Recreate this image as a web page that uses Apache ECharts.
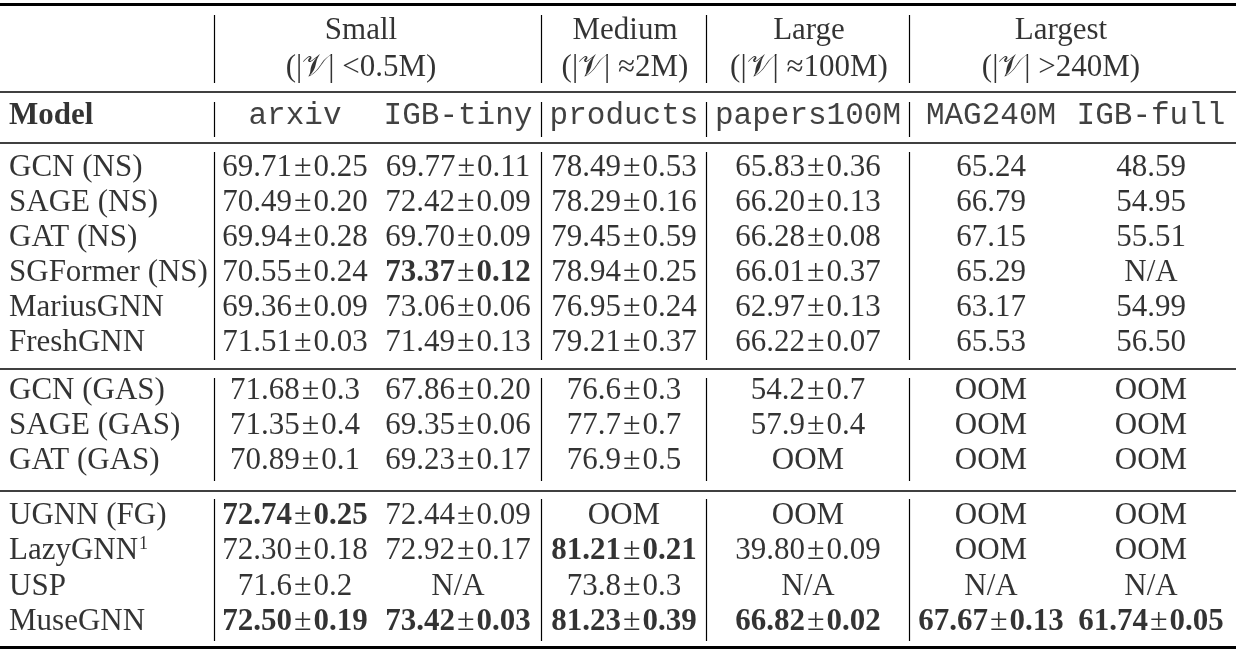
<!DOCTYPE html>
<html><head><meta charset="utf-8">
<script src="https://cdn.jsdelivr.net/npm/echarts@6/dist/echarts.min.js"></script>
<style>html,body{margin:0;padding:0;background:#fff}#c{width:1238px;height:652px}</style>
</head><body><div id="c"></div>
<script>
// ---------- data ----------
const models = ['GCN (NS)','SAGE (NS)','GAT (NS)','SGFormer (NS)','MariusGNN','FreshGNN',
  'GCN (GAS)','SAGE (GAS)','GAT (GAS)','UGNN (FG)','LazyGNN','USP','MuseGNN'];
const modelNotes = ['','','','','','','','','','','1','',''];
const datasets = ['arxiv','IGB-tiny','products','papers100M','MAG240M','IGB-full'];
const groups = ['Small','Medium','Large','Largest'];
const groupRanges = ['(|\u{1D4B1}| <0.5M)','(|\u{1D4B1}| \u22482M)','(|\u{1D4B1}| \u2248100M)','(|\u{1D4B1}| >240M)'];
const arxiv = ['69.71±0.25','70.49±0.20','69.94±0.28','70.55±0.24','69.36±0.09','71.51±0.03',
  '71.68±0.3','71.35±0.4','70.89±0.1','72.74±0.25','72.30±0.18','71.6±0.2','72.50±0.19'];
const igbTiny = ['69.77±0.11','72.42±0.09','69.70±0.09','73.37±0.12','73.06±0.06','71.49±0.13',
  '67.86±0.20','69.35±0.06','69.23±0.17','72.44±0.09','72.92±0.17','N/A','73.42±0.03'];
const products = ['78.49±0.53','78.29±0.16','79.45±0.59','78.94±0.25','76.95±0.24','79.21±0.37',
  '76.6±0.3','77.7±0.7','76.9±0.5','OOM','81.21±0.21','73.8±0.3','81.23±0.39'];
const papers100M = ['65.83±0.36','66.20±0.13','66.28±0.08','66.01±0.37','62.97±0.13','66.22±0.07',
  '54.2±0.7','57.9±0.4','OOM','OOM','39.80±0.09','N/A','66.82±0.02'];
const mag240M = ['65.24','66.79','67.15','65.29','63.17','65.53',
  'OOM','OOM','OOM','OOM','OOM','N/A','67.67±0.13'];
const igbFull = ['48.59','54.95','55.51','N/A','54.99','56.50',
  'OOM','OOM','OOM','OOM','OOM','N/A','61.74±0.05'];
const columns = [arxiv, igbTiny, products, papers100M, mag240M, igbFull];
// best results (column index, row index)
const boldCells = [[0,9],[0,12],[1,3],[1,12],[2,10],[2,12],[3,12],[4,12],[5,12]];

// ---------- layout ----------
const W = 1238, H = 652;
const SERIF = "'Liberation Serif','Times New Roman','DejaVu Serif',serif";
const MONO = "'Liberation Mono','Courier New','DejaVu Sans Mono',monospace";
const FS = 31;
const modelX = 9;
const colX = [295, 458, 624, 808, 991, 1151];
const groupX = [361, 625, 809, 1061];
const headY = [31, 68];
const modelRowY = 116;
const rowY = [167.5,202.5,237.5,272.5,307.5,342.5, 391,426,461, 516,551,587,622];
const hRules = [[4.5,3],[91.5,1.6],[143,1.6],[369,1.6],[490.5,1.6],[647,3]];
const vRuleX = [214, 541, 706, 909];
const vSpans = [[15,83],[102,137],[152,360],[378,481],[499,641]];

// ---------- build cells ----------
const isBold = (c, r) => boldCells.some(b => b[0] === c && b[1] === r);
const cells = [];
function cell(x, y, text, opt) {
  cells.push({
    value: [x, y],
    label: Object.assign({
      show: true, position: 'inside', align: 'center', verticalAlign: 'middle',
      formatter: text, fontFamily: SERIF, fontSize: FS, color: '#000', fontWeight: 'normal'
    }, opt || {})
  });
}
function numberCell(x, y, text, bold) {
  const fw = bold ? 'bold' : 'normal';
  if (text.indexOf('±') < 0) { cell(x, y, text, {fontWeight: fw}); return; }
  const parts = text.split('±');
  cell(x, y, '{t|' + parts[0] + '}{p|±}{t|' + parts[1] + '}', {
    fontWeight: fw,
    rich: {
      t: {fontFamily: SERIF, fontSize: FS, fontWeight: fw, color: '#000'},
      p: {fontFamily: SERIF, fontSize: FS + 1, fontWeight: 'normal', color: '#000', padding: [0, 2, 0, 2]}
    }
  });
}
groups.forEach((g, i) => {
  cell(groupX[i], headY[0], g);
  cell(groupX[i], headY[1], groupRanges[i]);
});
cell(modelX, modelRowY, 'Model', {align: 'left', fontWeight: 'bold'});
datasets.forEach((d, i) => cell(colX[i], modelRowY, d, {fontFamily: MONO, color: '#111'}));
models.forEach((m, r) => {
  const txt = modelNotes[r] ? '{n|' + m + '}{s|' + modelNotes[r] + '}' : m;
  cell(modelX, rowY[r], txt, {
    align: 'left',
    rich: modelNotes[r] ? {
      n: {fontFamily: SERIF, fontSize: FS, color: '#000'},
      s: {fontFamily: SERIF, fontSize: 18, color: '#000', padding: [0, 0, 13, 1]}
    } : undefined
  });
  columns.forEach((col, c) => numberCell(colX[c], rowY[r], col[r], isBold(c, r)));
});

// ---------- rules ----------
const rules = [];
hRules.forEach(([y, w]) => rules.push({coords: [[0, y], [1236, y]], lineStyle: {width: w}}));
vSpans.forEach(([y0, y1]) => vRuleX.forEach(x => rules.push({coords: [[x, y0], [x, y1]], lineStyle: {width: 1.2}})));

const chart = echarts.init(document.getElementById('c'));
chart.setOption({
  animation: false,
  backgroundColor: '#fff',
  grid: {left: 0, right: 0, top: 0, bottom: 0},
  xAxis: {type: 'value', min: 0, max: W, show: false},
  yAxis: {type: 'value', min: 0, max: H, inverse: true, show: false},
  series: [
    {type: 'lines', coordinateSystem: 'cartesian2d', silent: true, z: 1,
     lineStyle: {color: '#000', opacity: 1}, data: rules},
    {type: 'scatter', symbolSize: 0, silent: true, z: 2, data: cells}
  ]
});
</script></body></html>
